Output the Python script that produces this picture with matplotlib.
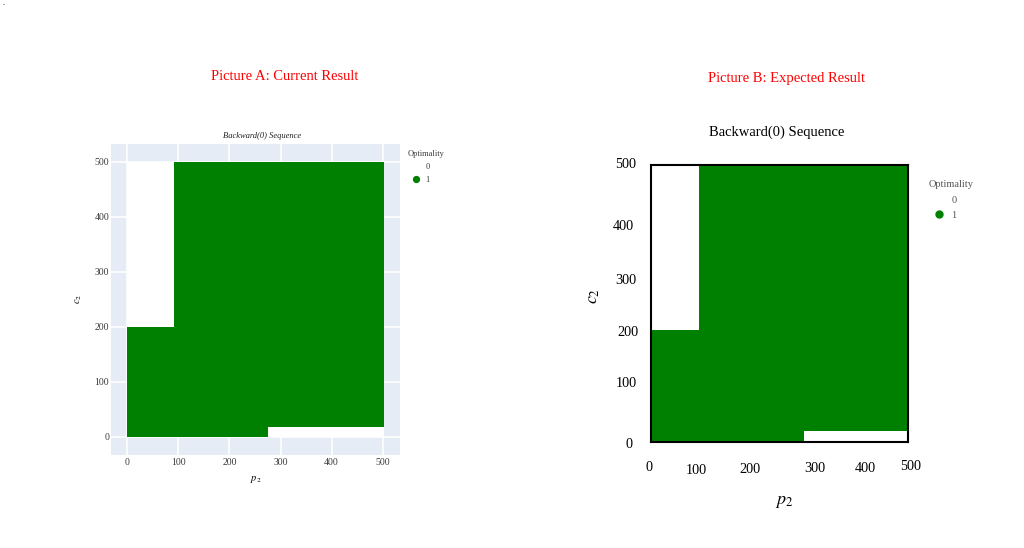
import matplotlib
matplotlib.use('Agg')
import matplotlib.pyplot as plt
import numpy as np
from matplotlib.colors import ListedColormap
from matplotlib.lines import Line2D

W, H, DPI = 1024, 548, 100

# ---------------- data ----------------
optimality_levels = ['0', '1']
level_colors = ['white', 'green']

# Picture A (current result): region boundaries along p2 and c2, optimality per cell
a_p2_edges = [0, 91, 275, 502]
a_c2_edges = [0, 18, 200, 500]
a_optimality = [[1, 1, 0],
                [1, 1, 1],
                [0, 1, 1]]

# Picture B (expected result)
b_p2_edges = [0, 93, 298, 500]
b_c2_edges = [0, 20, 202, 500]
b_optimality = [[1, 1, 0],
                [1, 1, 1],
                [0, 1, 1]]

tick_values = [0, 100, 200, 300, 400, 500]
tick_labels = ['0', '100', '200', '300', '400', '500']

plt.rcParams['font.family'] = ['Liberation Serif', 'DejaVu Serif']
plt.rcParams['mathtext.fontset'] = 'stix'

fig = plt.figure(figsize=(W / DPI, H / DPI), dpi=DPI)


def rect(l, t, r, b):
    return [l / W, 1 - b / H, (r - l) / W, (b - t) / H]


def fx(x):
    return x / W


def fy(y):
    return 1 - y / H


cmap = ListedColormap(level_colors)

fig.text(fx(2), fy(3), '.', fontsize=6, ha='left', va='center')
fig.text(fx(285), fy(77), 'Picture A: Current Result', color='red',
         fontsize=10.5, ha='center', va='center')
fig.text(fx(787), fy(78.5), 'Picture B: Expected Result', color='red',
         fontsize=10.5, ha='center', va='center')

# ---------------- Picture A (plotly-like) ----------------
axA = fig.add_axes(rect(110.7, 144.3, 400, 455))
axA.set_facecolor('#E5ECF6')
axA.set_axisbelow(True)
axA.grid(True, color='white', linewidth=1.2)
axA.pcolormesh(a_p2_edges, a_c2_edges, np.array(a_optimality), cmap=cmap,
               vmin=0, vmax=1, zorder=2)
axA.set_xlim(-32.5, 533.9)
axA.set_ylim(-33.3, 531.6)
for s in axA.spines.values():
    s.set_visible(False)
axA.set_xticks(tick_values)
axA.set_xticklabels(tick_labels)
axA.set_yticks(tick_values)
axA.set_yticklabels(tick_labels)
axA.tick_params(length=0, labelsize=7, colors='#3a3a3a')
axA.tick_params(axis='x', pad=2.5)
axA.tick_params(axis='y', pad=1)
axA.set_xlabel('$p_2$', fontsize=7.5, va='center')
axA.xaxis.set_label_coords((255.7 - 110.7) / 289.3, -(479.3 - 455) / 310.7)
axA.set_ylabel('$c_2$', fontsize=7.5, va='center', ha='center')
axA.yaxis.set_label_coords((79 - 110.7) / 289.3, (455 - 299) / 310.7)
tA = axA.set_title('Backward(0) Sequence', fontsize=6.1, style='italic',
                   va='center', color='#222222')
tA.set_position(((262 - 110.7) / 289.3, (455 - 131.5) / 310.7))
hA = [Line2D([], [], marker='o', linestyle='none', color=c, markersize=4.2)
      for c in level_colors]
legA = axA.legend(hA, optimality_levels, title='Optimality', loc='upper left',
                  bbox_to_anchor=(fx(407.3), fy(150.5)), bbox_transform=fig.transFigure,
                  frameon=False, fontsize=6, title_fontsize=6, handlelength=2.0,
                  handletextpad=0.2, borderpad=0, borderaxespad=0,
                  labelspacing=0.55, alignment='left')
for t in legA.get_texts():
    t.set_color('#3a3a3a')
legA.get_title().set_color('#3a3a3a')

# ---------------- Picture B ----------------
axB = fig.add_axes(rect(651, 165.3, 908.3, 441.7))
axB.pcolormesh(b_p2_edges, b_c2_edges, np.array(b_optimality), cmap=cmap,
               vmin=0, vmax=1)
axB.set_xlim(0, 500)
axB.set_ylim(0, 500)
for s in axB.spines.values():
    s.set_linewidth(1.5)
    s.set_color('black')
axB.set_xticks([])
axB.set_yticks([])

# tick labels (placed as in the reference)
b_xlabel_px = [(649, 467.7), (696.7, 470), (750, 469.7), (815, 468), (865, 468), (911, 466.7)]
b_ylabel_px = [(629, 445), (626.5, 383.3), (627.5, 332.3), (626, 281), (623.8, 226.7), (626, 165)]
for lab, (x, y) in zip(tick_labels, b_xlabel_px):
    fig.text(fx(x), fy(y), lab, fontsize=10.3, ha='center', va='center')
for lab, (x, y) in zip(tick_labels, b_ylabel_px):
    fig.text(fx(x), fy(y), lab, fontsize=10.3, ha='center', va='center')

fig.text(fx(593.3), fy(296), '$c_2$', fontsize=13, rotation=90, ha='center', va='center')
fig.text(fx(784), fy(501.7), '$p_2$', fontsize=13, ha='center', va='center')
fig.text(fx(777), fy(132), 'Backward(0) Sequence', fontsize=10.5, ha='center', va='center')

hB = [Line2D([], [], marker='o', linestyle='none', color=c, markersize=5)
      for c in level_colors]
legB = axB.legend(hB, optimality_levels, title='Optimality', loc='upper left',
                  bbox_to_anchor=(fx(929), fy(180.3)), bbox_transform=fig.transFigure,
                  frameon=False, fontsize=7.5, title_fontsize=7.5, handlelength=1.92,
                  handletextpad=0.22, borderpad=0, borderaxespad=0,
                  labelspacing=0.58, alignment='left')
for t in legB.get_texts():
    t.set_color('#555555')
legB.get_title().set_color('#555555')

fig.savefig('out.png', dpi=DPI)
